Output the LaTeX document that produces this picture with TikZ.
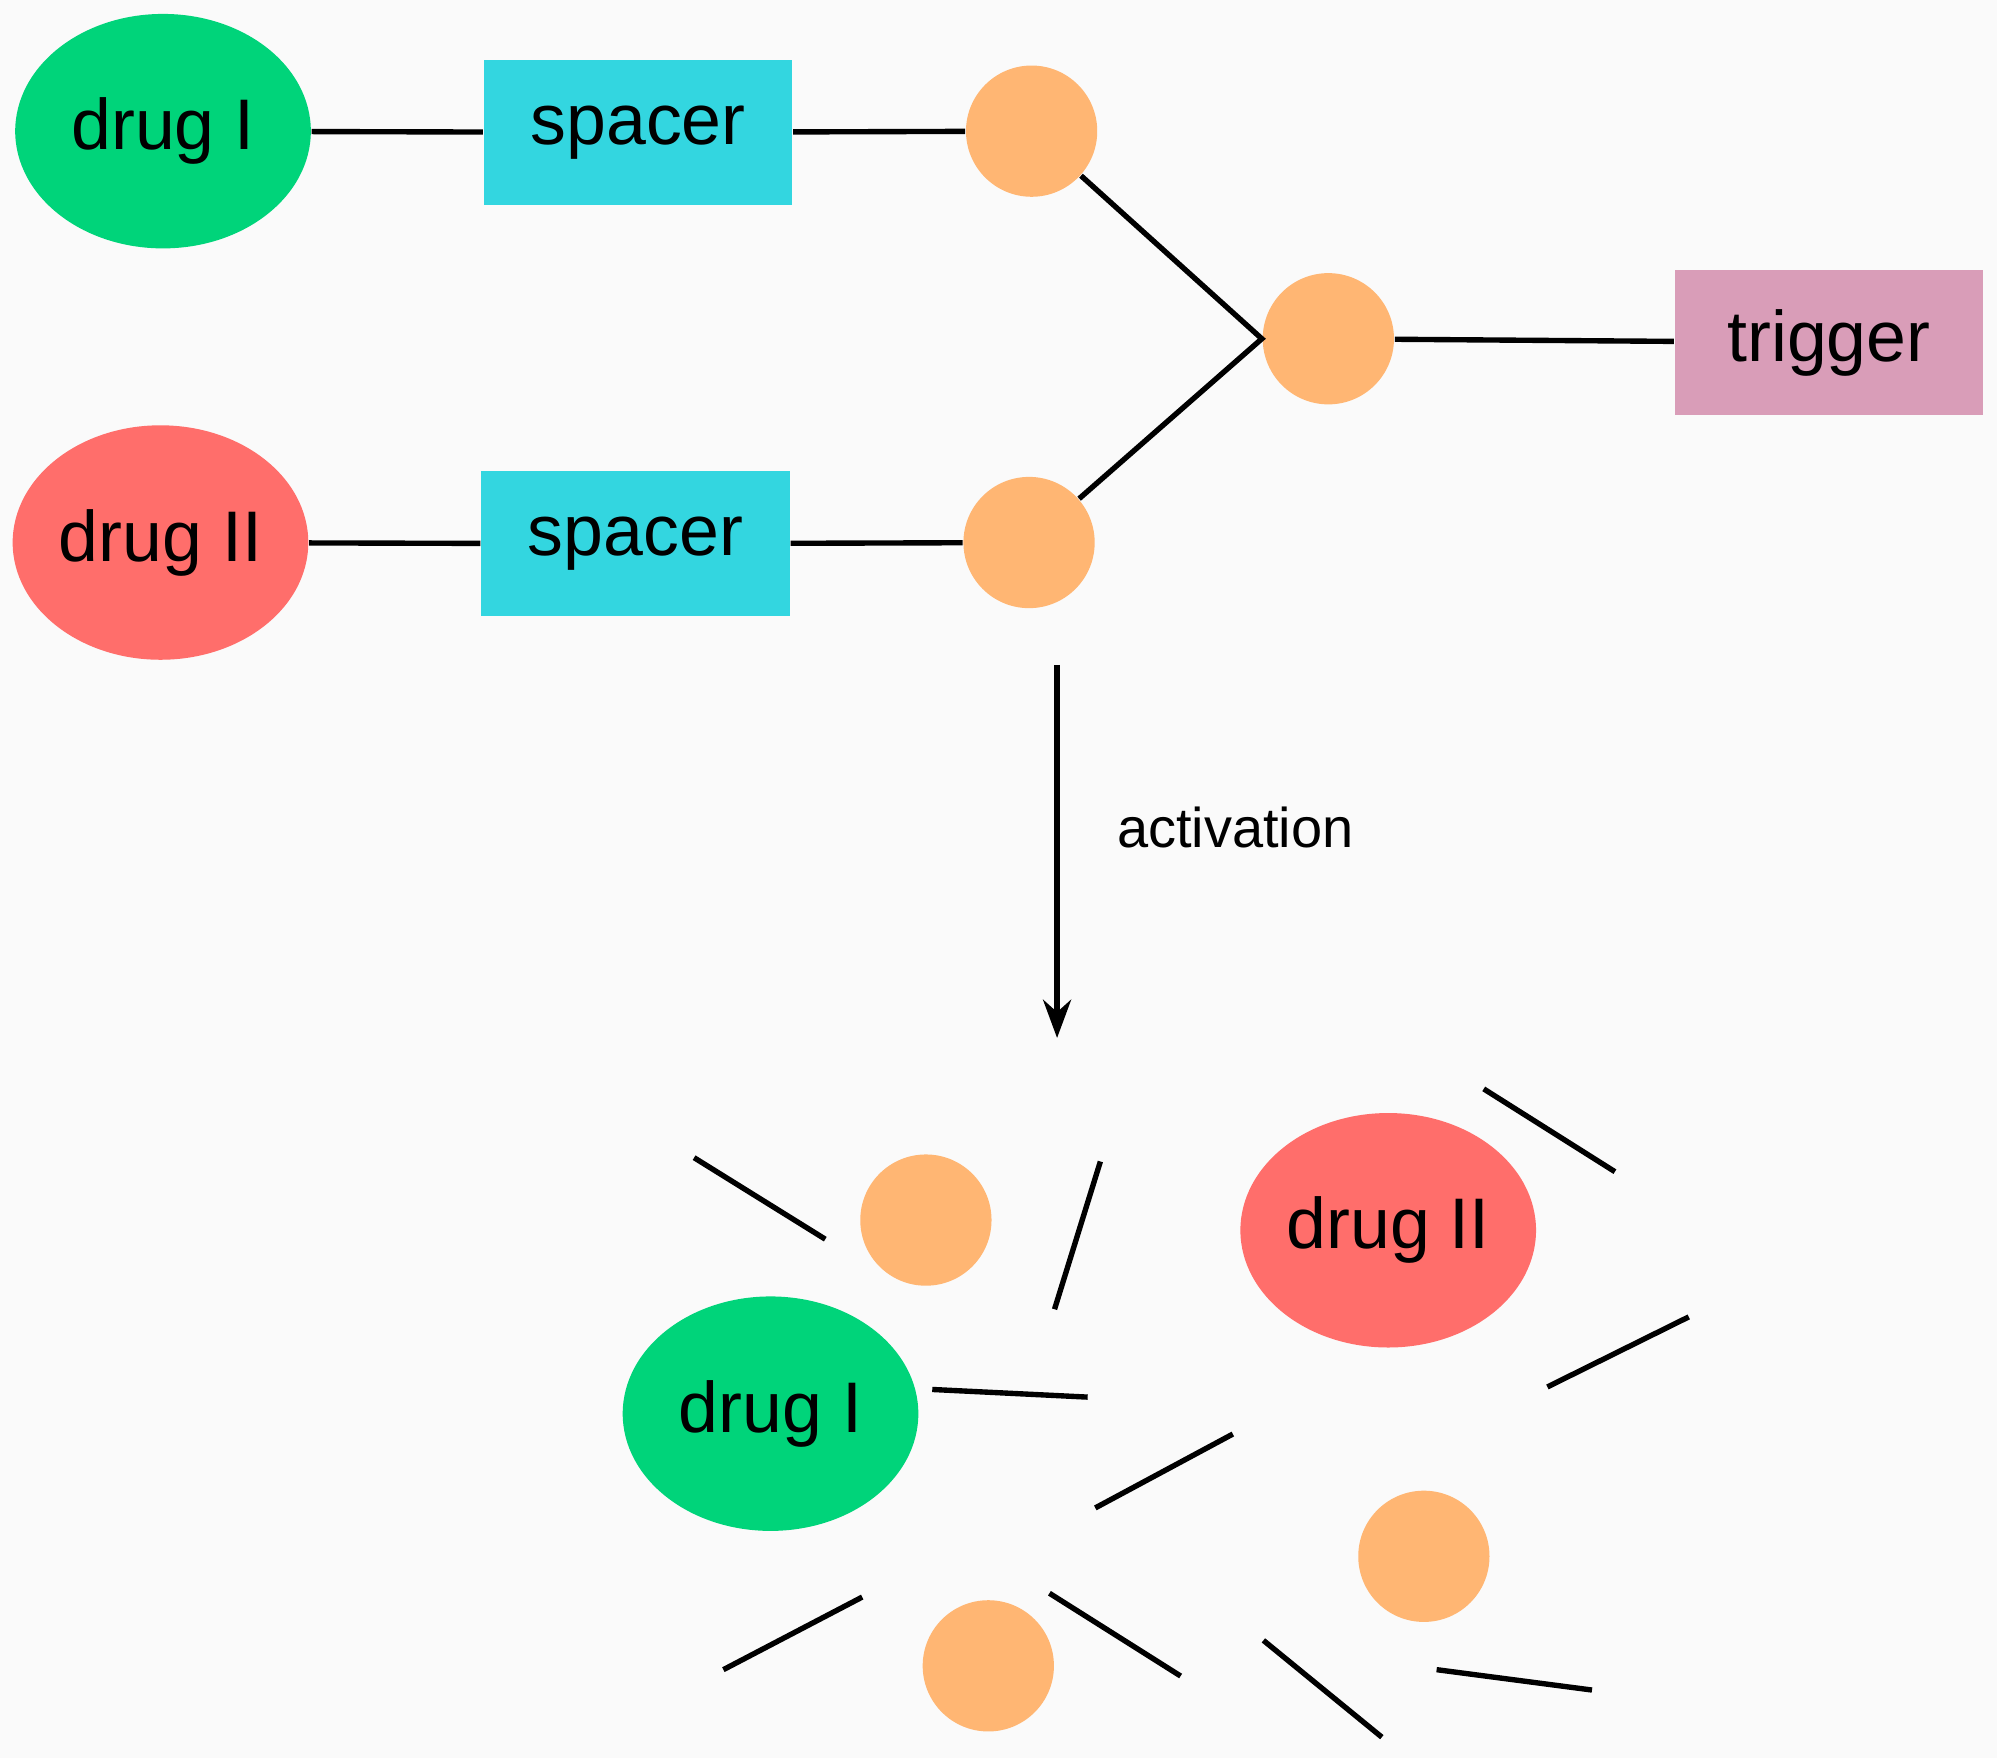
\documentclass[tikz,border=0pt]{standalone}
\usepackage{fontspec}
\setmainfont{Liberation Sans}
\usetikzlibrary{shapes.geometric,arrows.meta}
\definecolor{bg}{HTML}{FAFAFA}
\definecolor{dgreen}{HTML}{00D47A}
\definecolor{dred}{HTML}{FF6E6B}
\definecolor{sp}{HTML}{33D6E0}
\definecolor{orn}{HTML}{FFB673}
\definecolor{trg}{HTML}{D99DB8}
\begin{document}
\begin{tikzpicture}[x=0.01cm,y=-0.01cm,
  drug/.style={ellipse,minimum width=232\pgfmathresult,inner sep=0pt,font=\fontsize{16}{18}\selectfont},
  ell/.style={ellipse,draw=none,inner sep=0pt,minimum width=2.32cm,minimum height=1.84cm,font=\fontsize{16}{18}\selectfont},
  box/.style={rectangle,inner sep=0pt,minimum width=2.42cm,minimum height=1.14cm,font=\fontsize{16}{18}\selectfont},
  dot/.style={circle,fill=orn,inner sep=0pt,minimum size=1.03cm},
  ln/.style={line width=1.2pt},
  frag/.style={line width=1.2pt}]
\fill[bg] (0,0) rectangle (1568,1380);
\useasboundingbox (0,0) rectangle (1568,1380);
\node[ell,fill=dgreen] (d1) at (128,103) {drug I};
\node[box,fill=sp] (s1) at (501,104) {spacer};
\node[dot] (c1) at (810,103) {};
\node[ell,fill=dred] (d2) at (126,426) {drug II};
\node[box,fill=sp] (s2) at (499,427) {spacer};
\node[dot] (c2) at (808,426) {};
\node[dot] (c3) at (1043,266) {};
\node[box,fill=trg] (t) at (1436,269) {trigger};
\draw[ln] (d1) -- (s1) (s1) -- (c1) (d2) -- (s2) (s2) -- (c2);
\draw[ln] (c1) -- (c3.west) -- (c2);
\draw[ln] (c3) -- (t);
\coordinate (a1) at (830,522); \coordinate (a2) at (830,815);
\draw[line width=1.2pt,-{Stealth[length=0.3cm,width=0.22cm]}] (a1) -- (a2);
\node[font=\fontsize{12.5}{14}\selectfont] (act) at (970,650) {activation};
\node[dot] (b1) at (727,958) {};
\node[ell,fill=dred] (bd2) at (1090,966) {drug II};
\node[ell,fill=dgreen] (bd1) at (605,1110) {drug I};
\node[dot] (b2) at (1118,1222) {};
\node[dot] (b3) at (776,1308) {};
\draw[frag] (545,909)--(648,973);
\draw[frag] (864,912)--(828,1028);
\draw[frag] (1165,855)--(1268,920);
\draw[frag] (732,1091)--(854,1097);
\draw[frag] (1326,1034)--(1215,1089);
\draw[frag] (860,1184)--(968,1126);
\draw[frag] (568,1311)--(677,1254);
\draw[frag] (824,1251)--(927,1316);
\draw[frag] (992,1288)--(1085,1364);
\draw[frag] (1128,1311)--(1250,1327);
\end{tikzpicture}
\end{document}
